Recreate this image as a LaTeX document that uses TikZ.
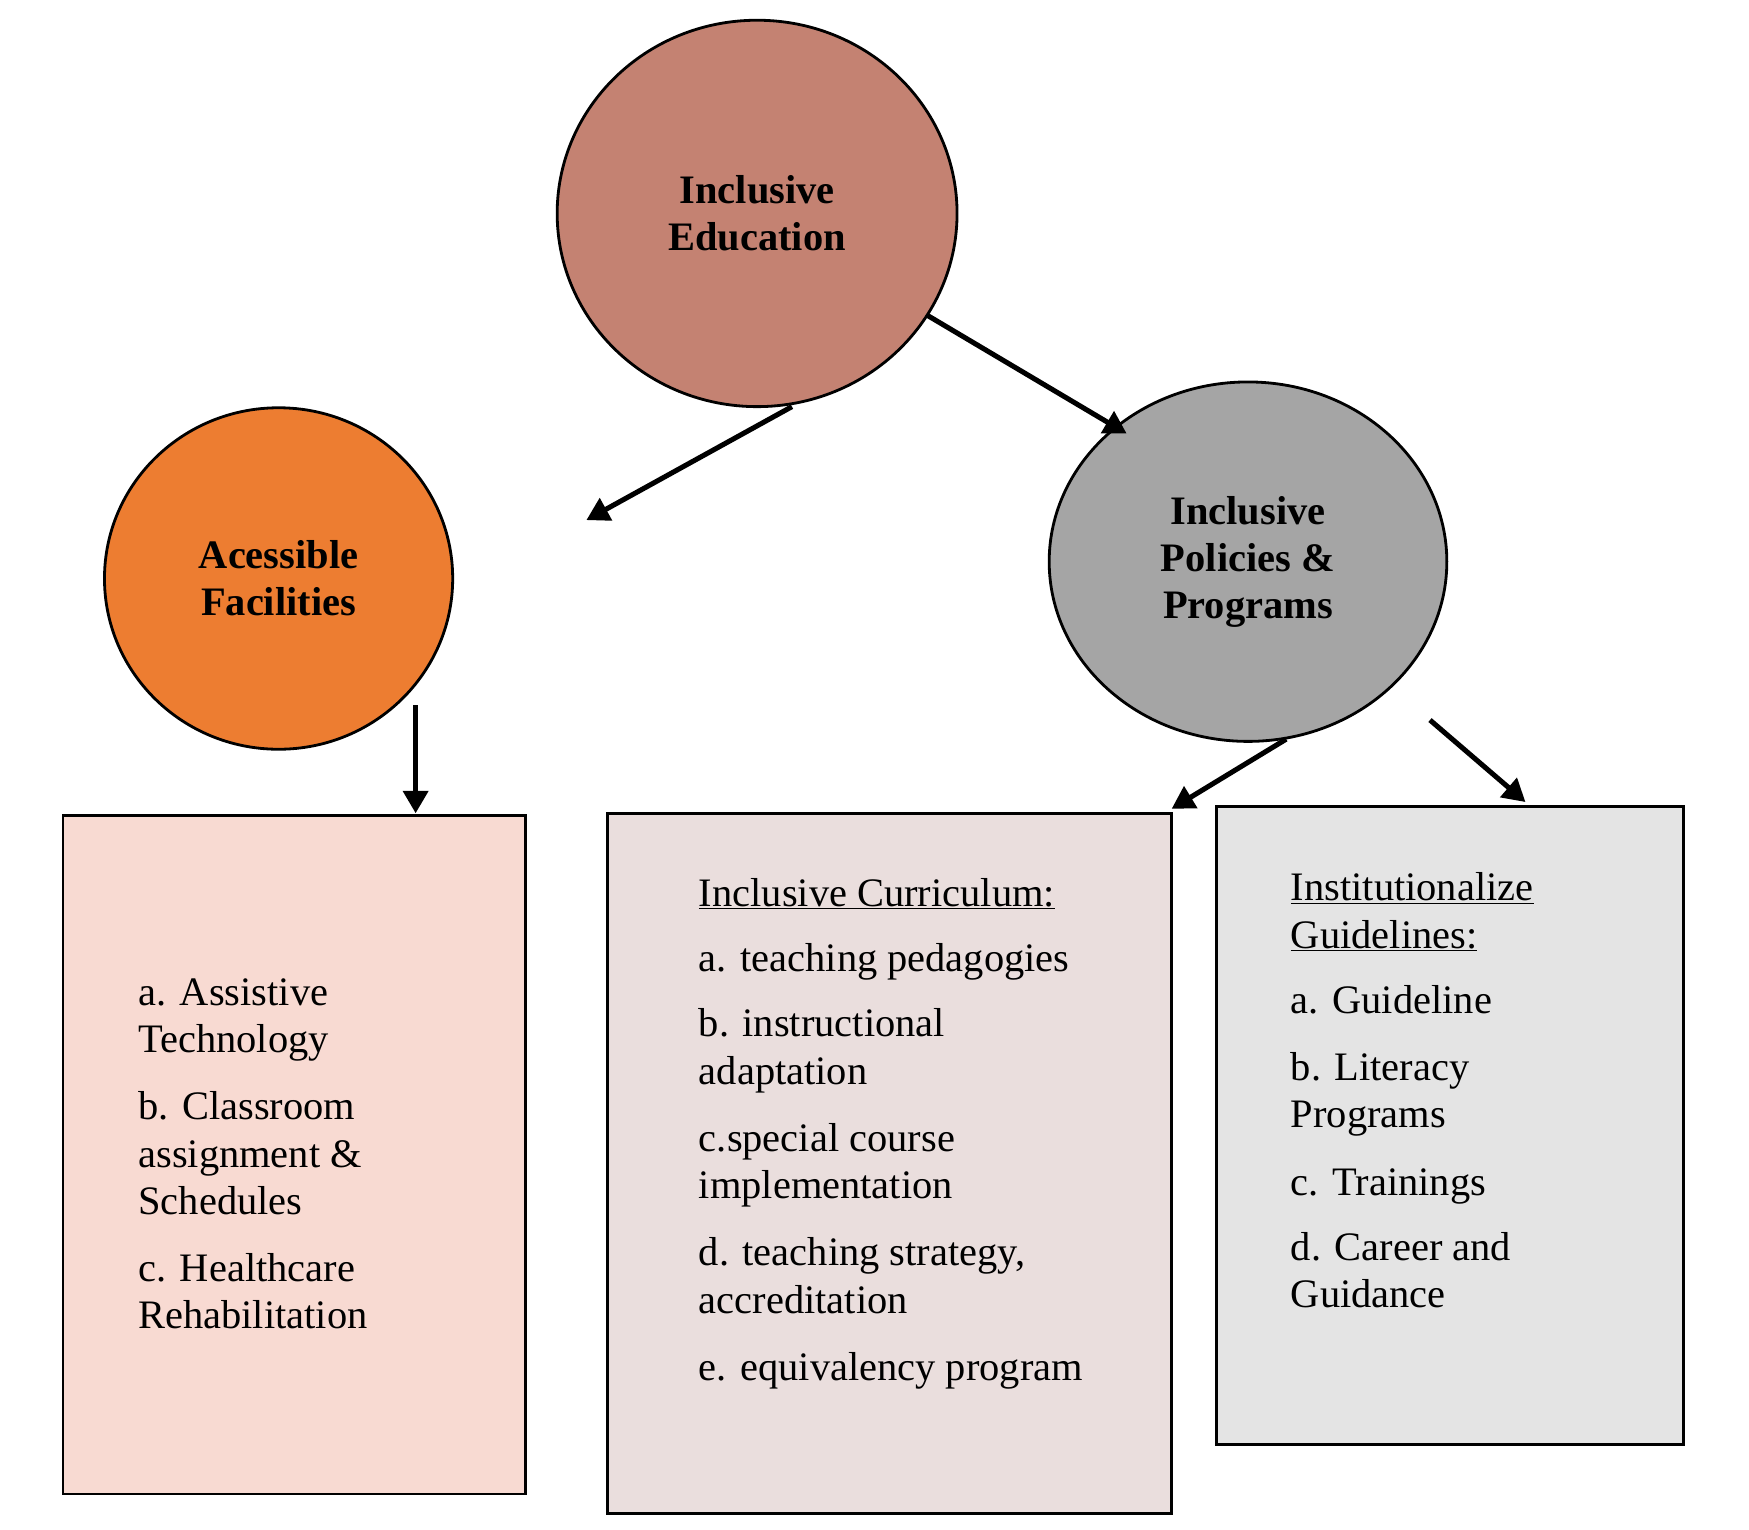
\documentclass[tikz,border=0pt]{standalone}
\usepackage{fontspec}
\setmainfont{Liberation Serif}
\usetikzlibrary{arrows.meta}
\begin{document}
\begin{tikzpicture}[x=1pt,y=-1pt,
  circ/.style={ellipse,draw=black,line width=2.5pt,font=\fontsize{36}{42}\selectfont\bfseries,align=center},
  box/.style={draw=black,line width=2.5pt},
  txt/.style={anchor=base west,inner sep=0pt,font=\fontsize{36}{42}\selectfont},
  arr/.style={line width=4.5pt,-{Triangle[length=20pt,width=22pt]}}]
\useasboundingbox (0,0) rectangle (1557,1362);
\fill[box,fill=white,draw=none] (0,0) rectangle (1557,1362);
\draw[line width=2.5pt,fill={rgb,255:red,196;green,130;blue,114}] (674,190) ellipse [x radius=178,y radius=172];
\node[font=\fontsize{36}{42}\selectfont\bfseries,align=center] (ie) at (674,190) {Inclusive\\Education};
\draw[line width=2.5pt,fill={rgb,255:red,237;green,125;blue,49}] (248,515) ellipse [x radius=155,y radius=152];
\node[font=\fontsize{36}{42}\selectfont\bfseries,align=center] (af) at (248,515) {Acessible\\Facilities};
\draw[line width=2.5pt,fill={rgb,255:red,165;green,165;blue,165}] (1111,500) ellipse [x radius=177,y radius=160];
\node[font=\fontsize{36}{42}\selectfont\bfseries,align=center] (ip) at (1111,500) {Inclusive\\Policies \&\\Programs};
\draw[box,fill={rgb,255:red,248;green,218;blue,210}] (56,726) rectangle (468,1330);
\draw[box,fill={rgb,255:red,234;green,222;blue,221}] (541,724) rectangle (1043,1347);
\draw[box,fill={rgb,255:red,228;green,228;blue,228}] (1083,718) rectangle (1499,1286);
\coordinate (a1s) at (705,362); \coordinate (a1e) at (522,463);
\coordinate (a2s) at (826,281); \coordinate (a2e) at (1003,386);
\coordinate (a3s) at (370,628); \coordinate (a3e) at (370,724);
\coordinate (a4s) at (1145,658); \coordinate (a4e) at (1043,720);
\coordinate (a5s) at (1273,641); \coordinate (a5e) at (1358,714);
\foreach \s/\e in {a1s/a1e,a2s/a2e,a3s/a3e,a4s/a4e,a5s/a5e} \draw[arr] (\s) -- (\e);
% box 1
\node[txt] (b1a) at (123,895) {a. Assistive};
\node[txt] (b1b) at (123,937) {Technology};
\node[txt] (b1c) at (123,997) {b. Classroom};
\node[txt] (b1d) at (123,1039) {assignment \&};
\node[txt] (b1e) at (123,1081) {Schedules};
\node[txt] (b1f) at (123,1141) {c. Healthcare};
\node[txt] (b1g) at (123,1183) {Rehabilitation};
% box 2
\node[txt] (b2a) at (622,807) {\underline{Inclusive Curriculum:}};
\node[txt] (b2b) at (622,865) {a. teaching pedagogies};
\node[txt] (b2c) at (622,923) {b. instructional};
\node[txt] (b2d) at (622,965) {adaptation};
\node[txt] (b2e) at (622,1025) {c.special course};
\node[txt] (b2f) at (622,1067) {implementation};
\node[txt] (b2g) at (622,1127) {d. teaching strategy,};
\node[txt] (b2h) at (622,1169) {accreditation};
\node[txt] (b2i) at (622,1229) {e. equivalency program};
% box 3
\node[txt] (b3a) at (1149,802) {\underline{Institutionalize}};
\node[txt] (b3b) at (1149,844) {\underline{Guidelines:}};
\node[txt] (b3c) at (1149,902) {a. Guideline};
\node[txt] (b3d) at (1149,962) {b. Literacy};
\node[txt] (b3e) at (1149,1004) {Programs};
\node[txt] (b3f) at (1149,1064) {c. Trainings};
\node[txt] (b3g) at (1149,1122) {d. Career and};
\node[txt] (b3h) at (1149,1164) {Guidance};
\end{tikzpicture}
\end{document}
